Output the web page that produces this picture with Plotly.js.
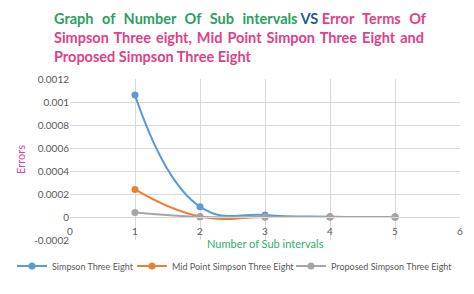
<!DOCTYPE html>
<html><head><meta charset="utf-8">
<script src="https://cdn.plot.ly/plotly-3.0.1.min.js"></script>
<style>html,body{margin:0;padding:0;background:#fff}#chart{width:474px;height:294px}</style>
</head><body><div id="chart"></div>
<script>
const subIntervals = [1, 2, 3, 4, 5];
const simpsonThreeEight = [0.00106, 0.00009, 0.000018, 0.000002, 0.0000005];
const midPointSimpson = [0.00024, 0.000004, 0.000001, 0.0000002, 0.0000001];
const proposedSimpson = [0.00004, 0.000001, 0.0000002, 0.00000005, 0.00000001];
const seriesNames = ["Simpson Three Eight", "Mid Point Simpson Three Eight", "Proposed Simpson Three Eight"];
const colors = ["#5B9BD5", "#ED7D31", "#A5A5A5"];
const yTicks = [-0.0002, 0, 0.0002, 0.0004, 0.0006, 0.0008, 0.001, 0.0012];
const yTickText = ["-0.0002", "0", "0.0002", "0.0004", "0.0006", "0.0008", "0.001", "0.0012"];
const xTicks = [0, 1, 2, 3, 4, 5, 6];

const font = "Lato, 'Open Sans', sans-serif";
const series = [simpsonThreeEight, midPointSimpson, proposedSimpson];
const legendIds = ['legend', 'legend2', 'legend3'];
const traces = series.map((vals, i) => ({
  x: subIntervals, y: vals, name: seriesNames[i], type: 'scatter', mode: 'lines+markers',
  line: {color: colors[i], width: 2, shape: 'spline', smoothing: 1.3},
  marker: {color: colors[i], size: 7},
  legend: legendIds[i]
}));

const legendBase = {orientation: 'h', xref: 'container', xanchor: 'left', yref: 'container', y: 0.095, yanchor: 'middle',
                    font: {size: 9, color: '#595959'}, itemwidth: 30, bgcolor: 'rgba(0,0,0,0)'};
const layout = {
  width: 474, height: 294,
  margin: {l: 70, r: 14, t: 79, b: 54, autoexpand: false},
  paper_bgcolor: '#fff', plot_bgcolor: '#fff',
  font: {family: font, color: '#595959', size: 10},
  showlegend: true,
  legend: Object.assign({}, legendBase, {x: 12/474}),
  legend2: Object.assign({}, legendBase, {x: 132/474}),
  legend3: Object.assign({}, legendBase, {x: 291/474}),
  xaxis: {range: [0, 6], tickvals: xTicks, ticktext: xTicks.map(String),
          showgrid: true, gridcolor: '#D9D9D9', gridwidth: 1, zeroline: false,
          showline: true, linecolor: '#D9D9D9', anchor: 'free', position: 0.2/1.4,
          ticks: '', ticklabelstandoff: 5, tickfont: {size: 10, color: '#595959'}},
  yaxis: {range: [-0.0002, 0.0012], tickvals: yTicks, ticktext: yTickText,
          showgrid: true, gridcolor: '#D9D9D9', gridwidth: 1, zeroline: false, showline: false,
          ticks: '', tickfont: {size: 10, color: '#595959'},
          title: {text: 'Errors', font: {size: 11, color: '#D9449A'}, standoff: 6}},
  annotations: [
    {xref: 'paper', yref: 'paper', x: 0.5, y: -0.02, xanchor: 'center', yanchor: 'middle', showarrow: false,
     font: {family: font, size: 11, color: '#2EAD6B'}, text: 'Number of Sub intervals'},
    {xref: 'paper', yref: 'paper', x: -0.047, y: 1.373, xanchor: 'left', yanchor: 'middle', showarrow: false,
     align: 'left', font: {family: font, size: 14.5, color: '#2AA15F'},
     text: '<b><span style="color:#2AA15F;word-spacing:5px">Graph of Number Of Sub intervals</span> <span style="color:#1F5C99">VS</span> <span style="color:#E0408A;word-spacing:5px">Error Terms Of</span></b>'},
    {xref: 'paper', yref: 'paper', x: -0.047, y: 1.255, xanchor: 'left', yanchor: 'middle', showarrow: false,
     font: {family: font, size: 14.5, color: '#E0408A'},
     text: '<b><span style="word-spacing:1.5px">Simpson Three eight, Mid Point Simpon Three Eight and</span></b>'},
    {xref: 'paper', yref: 'paper', x: -0.047, y: 1.137, xanchor: 'left', yanchor: 'middle', showarrow: false,
     font: {family: font, size: 14.5, color: '#E0408A'},
     text: '<b>Proposed Simpson Three Eight</b>'}
  ]
};
Plotly.newPlot('chart', traces, layout, {displayModeBar: false, staticPlot: true});
</script></body></html>
